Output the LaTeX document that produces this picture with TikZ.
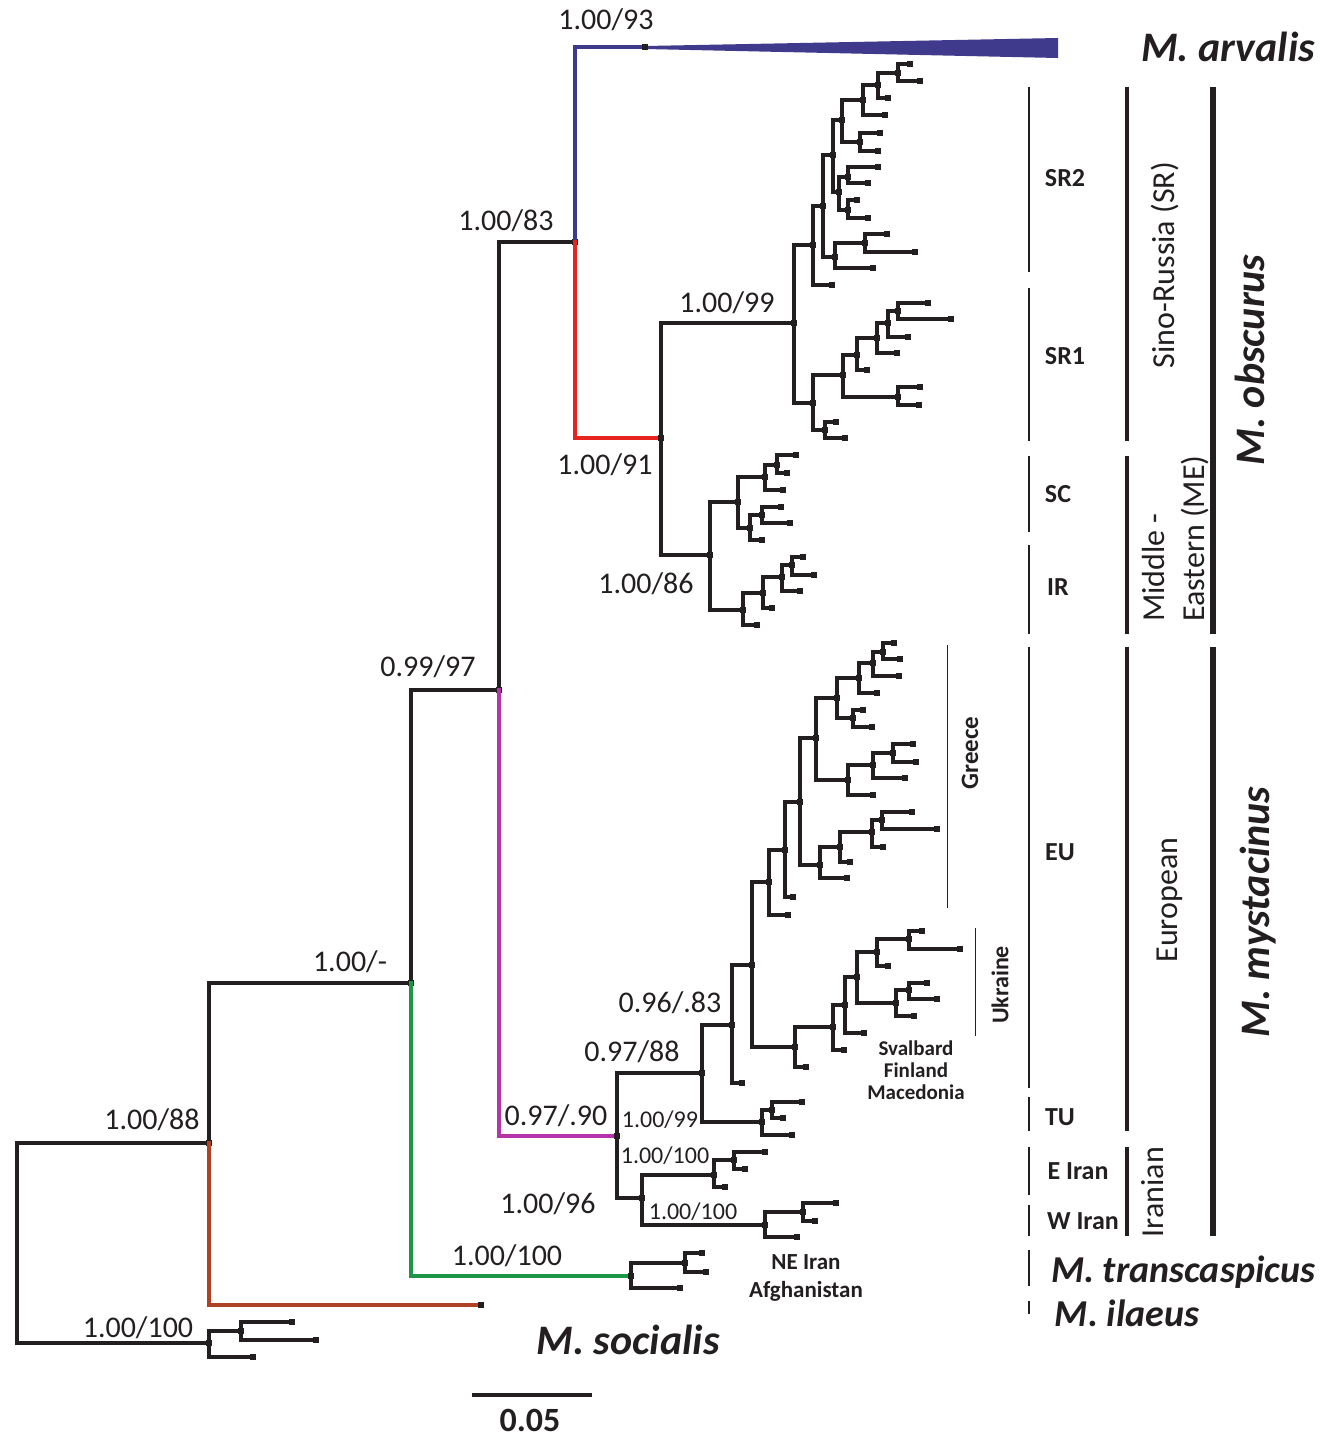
\documentclass[tikz,border=0pt]{standalone}
\usepackage{fontspec}
\setmainfont{Carlito}
\definecolor{tb}{RGB}{35,31,32}
\definecolor{cblue}{RGB}{64,58,140}
\definecolor{cred}{RGB}{232,36,32}
\definecolor{cmag}{RGB}{182,52,170}
\definecolor{cgreen}{RGB}{30,150,72}
\definecolor{cbrown}{RGB}{176,66,36}
\newcount\lc
\newcommand\nd[4][]{\coordinate (#2) at (#3); \draw[branch,#1] (#4) |- (#2); \fill[tb] (#2) +(-2.6,-2.6) rectangle +(2.6,2.6);}
\newcommand\lf[3][]{\global\advance\lc by 1 \edef\lname{L\the\lc}\coordinate (\lname) at (#2); \draw[branch,#1] (#3) |- (\lname); \fill[tb] (\lname) +(-3.4,-3.4) rectangle +(3.4,3.4);}
\begin{document}
\begin{tikzpicture}[x=1pt,y=-1pt,
  branch/.style={line width=3.6pt,draw=tb,line cap=rect,line join=miter},
  cbl/.style={draw=cblue,line width=3.3pt},
  crd/.style={draw=cred,line width=3.3pt},
  cmg/.style={draw=cmag,line width=3.3pt},
  cgr/.style={draw=cgreen,line width=3.3pt},
  cbr/.style={draw=cbrown,line width=3.3pt},
  lab/.style={text=tb,inner sep=0pt,font=\fontsize{30}{34}\selectfont},
  slab/.style={text=tb,inner sep=0pt,font=\fontsize{24}{28}\selectfont},
  grp/.style={text=tb,inner sep=0pt,font=\fontsize{26}{30}\selectfont\bfseries},
  reg/.style={text=tb,inner sep=0pt,font=\fontsize{32}{36}\selectfont},
  taxon/.style={text=tb,inner sep=0pt,font=\fontsize{42}{48}\selectfont\bfseries\itshape},
  place/.style={text=tb,inner sep=0pt,font=\fontsize{21}{22}\selectfont\bfseries},
  thin/.style={draw=tb,line width=2pt},
  mid/.style={draw=tb,line width=4pt},
  thick/.style={draw=tb,line width=5.5pt}]
\useasboundingbox (0,0) rectangle (1325,1444);
% ---------- tree ----------
\coordinate (root) at (17,1244);
\nd{n209}{209,1143}{root}
\nd{nsoc}{209,1343}{root}
\nd{nsa}{241,1331}{nsoc}
\lf{292,1322}{nsa}
\lf{316,1340}{nsa}
\lf{253,1357}{nsoc}
\nd{n411}{411,983}{n209}
\lf[cbr]{481,1305}{n209}
\nd{n499}{499,690}{n411}
\nd[cgr]{ntc}{631,1276}{n411}
\nd{ntca}{685,1263}{ntc}
\lf{702,1253}{ntca}
\lf{706,1272}{ntca}
\lf{680,1288}{ntc}
\nd{n575}{575,242}{n499}
\nd[cmg]{n617}{617,1136}{n499}
\nd[cbl]{narv}{645,47}{n575}
\fill[cblue] (645,46) -- (1058,38) -- (1058,58) -- (645,49) -- cycle;
\fill[tb] (narv) +(-2.6,-2.6) rectangle +(2.6,2.6);
\nd[crd]{n661}{661,438}{n575}
\nd{n794}{794,323}{n661}
\nd{n710}{710,555}{n661}
% SR2
\nd{a1}{813,245}{n794}
\nd{b1}{813,403}{n794}
\nd{a2}{823,206}{a1}
\lf{832,285}{a1}
\nd{a3}{833,155}{a2}
\nd{a4}{835,257}{a2}
\nd{a5}{865,243}{a4}
\lf{873,268}{a4}
\lf{887,234}{a5}
\lf{915,252}{a5}
\nd{a6}{842,120}{a3}
\nd{a7}{839,192}{a3}
\nd{a8}{848,177}{a7}
\nd{a9}{848,210}{a7}
\lf{878,167}{a8}
\lf{868,183}{a8}
\lf{857,200}{a9}
\lf{868,218}{a9}
\nd{a10}{863,100}{a6}
\nd{a11}{860,142}{a6}
\lf{880,133}{a11}
\lf{878,151}{a11}
\nd{a12}{878,85}{a10}
\lf{885,115}{a10}
\nd{a13}{898,73}{a12}
\lf{888,98}{a12}
\lf{910,64}{a13}
\lf{920,81}{a13}
% SR1
\nd{b2}{843,375}{b1}
\nd{b3}{825,430}{b1}
\lf{836,422}{b3}
\lf{845,438}{b3}
\nd{b4}{857,355}{b2}
\nd{b5}{898,397}{b2}
\lf{920,387}{b5}
\lf{919,405}{b5}
\nd{b6}{877,338}{b4}
\lf{867,370}{b4}
\nd{b7}{888,323}{b6}
\lf{897,353}{b6}
\nd{b8}{898,311}{b7}
\lf{908,337}{b7}
\lf{928,303}{b8}
\lf{951,319}{b8}
% SC / IR
\nd{c1}{738,502}{n710}
\nd{c2}{743,610}{n710}
\nd{c3}{765,477}{c1}
\nd{c4}{750,528}{c1}
\nd{c5}{777,465}{c3}
\lf{783,490}{c3}
\lf{796,455}{c5}
\lf{787,473}{c5}
\nd{c6}{762,515}{c4}
\lf{762,540}{c4}
\lf{781,507}{c6}
\lf{790,523}{c6}
\nd{c7}{763,593}{c2}
\lf{757,625}{c2}
\nd{c8}{782,577}{c7}
\lf{772,608}{c7}
\nd{c9}{792,565}{c8}
\lf{800,591}{c8}
\lf{803,557}{c9}
\lf{814,575}{c9}
% mystacinus
\nd{d1}{702,1073}{n617}
\nd{d2}{642,1198}{n617}
\nd{d3}{732,1025}{d1}
\nd{d4}{762,1122}{d1}
\nd{d5}{772,1110}{d4}
\lf{792,1135}{d4}
\lf{802,1102}{d5}
\lf{783,1118}{d5}
\nd{d6}{752,965}{d3}
\lf{742,1083}{d3}
\nd{e1}{769,882}{d6}
\nd{u1}{795,1047}{d6}
\nd{u2}{833,1027}{u1}
\lf{806,1067}{u1}
\nd{u3}{845,1005}{u2}
\lf{844,1050}{u2}
\nd{u4}{857,977}{u3}
\lf{864,1033}{u3}
\nd{u5}{877,952}{u4}
\nd{u6}{896,1003}{u4}
\nd{u7}{909,939}{u5}
\lf{888,966}{u5}
\lf{922,931}{u7}
\lf{960,949}{u7}
\nd{u8}{909,990}{u6}
\lf{914,1016}{u6}
\lf{927,983}{u8}
\lf{937,999}{u8}
\nd{e2}{785,850}{e1}
\lf{788,915}{e1}
\nd{e3}{800,802}{e2}
\lf{793,897}{e2}
\nd{e4}{816,738}{e3}
\nd{e5}{820,865}{e3}
\nd{e6}{840,847}{e5}
\lf{847,878}{e5}
\nd{e7}{872,832}{e6}
\lf{850,862}{e6}
\nd{e8}{882,820}{e7}
\lf{883,847}{e7}
\lf{912,812}{e8}
\lf{937,829}{e8}
\nd{e9}{837,698}{e4}
\nd{e10}{848,780}{e4}
\nd{e11}{873,765}{e10}
\lf{873,795}{e10}
\nd{e12}{893,753}{e11}
\lf{905,778}{e11}
\lf{913,744}{e12}
\lf{916,762}{e12}
\nd{e13}{859,678}{e9}
\nd{e14}{853,718}{e9}
\lf{863,710}{e14}
\lf{872,727}{e14}
\nd{e15}{873,663}{e13}
\lf{877,693}{e13}
\nd{e16}{883,652}{e15}
\lf{899,676}{e15}
\lf{894,643}{e16}
\lf{900,659}{e16}
\nd{f1}{714,1175}{d2}
\nd{f2}{765,1225}{d2}
\nd{f3}{734,1160}{f1}
\lf{725,1187}{f1}
\lf{765,1152}{f3}
\lf{745,1169}{f3}
\nd{f4}{803,1212}{f2}
\lf{797,1237}{f2}
\lf{836,1203}{f4}
\lf{815,1221}{f4}
% ---------- support labels ----------
\node[lab] (s1) at (606,20) {1.00/93};
\node[lab] (s2) at (506,221) {1.00/83};
\node[lab] (s3) at (605,465) {1.00/91};
\node[lab] (s4) at (727,303) {1.00/99};
\node[lab] (s5) at (646,584) {1.00/86};
\node[lab] (s6) at (428,667) {0.99/97};
\node[lab] (s7) at (350,962) {1.00/-};
\node[lab] (s8) at (152,1120) {1.00/88};
\node[lab] (s9) at (138,1328) {1.00/100};
\node[lab] (s10) at (507,1256) {1.00/100};
\node[lab] (s11) at (556,1116) {0.97/.90};
\node[lab] (s12) at (632,1052) {0.97/88};
\node[lab] (s13) at (670,1003) {0.96/.83};
\node[lab] (s14) at (548,1204) {1.00/96};
\node[slab] (s15) at (660,1120) {1.00/99};
\node[slab] (s16) at (665,1156) {1.00/100};
\node[slab] (s17) at (693,1212) {1.00/100};
% ---------- place labels ----------
\node[place,align=center] (svf) at (916,1070) {Svalbard\\Finland\\Macedonia};
\node[place,align=center,font=\fontsize{23}{28}\selectfont\bfseries] (nei) at (806,1278) {NE Iran\\Afghanistan};
\draw[tb,line width=1pt] (947,645) -- (947,908);
\node[grp,rotate=90,font=\fontsize{25}{30}\selectfont\bfseries] (gre) at (970,753) {Greece};
\draw[tb,line width=1pt] (975,928) -- (975,1036);
\node[grp,rotate=90,font=\fontsize{24}{30}\selectfont\bfseries] (ukr) at (1000,985) {Ukraine};
% ---------- right columns ----------
\draw[thin] (1029,87) -- (1029,272);
\draw[thin] (1029,288) -- (1029,441);
\draw[thin] (1029,456) -- (1029,532);
\draw[thin] (1029,545) -- (1029,634);
\draw[thin] (1029,647) -- (1029,1088);
\draw[thin] (1029,1097) -- (1029,1131);
\draw[thin] (1029,1147) -- (1029,1195);
\draw[thin] (1029,1205) -- (1029,1236);
\draw[thin] (1029,1250) -- (1029,1286);
\draw[thin] (1029,1301) -- (1029,1314);
\node[grp] (sr2) at (1065,178) {SR2};
\node[grp] (sr1) at (1065,356) {SR1};
\node[grp] (sc) at (1058,494) {SC};
\node[grp] (ir) at (1058,587) {IR};
\node[grp] (eu) at (1060,852) {EU};
\node[grp] (tu) at (1060,1117) {TU};
\node[grp] (eir) at (1078,1171) {E Iran};
\node[grp] (wir) at (1083,1221) {W Iran};
\draw[mid] (1127,87) -- (1127,441);
\draw[mid] (1127,456) -- (1127,634);
\draw[mid] (1127,647) -- (1127,1131);
\draw[mid] (1127,1147) -- (1127,1236);
\node[reg,rotate=90] (sinor) at (1165,265) {Sino-Russia (SR)};
\node[reg,rotate=90,anchor=west] (midd) at (1153,622) {Middle -};
\node[reg,rotate=90,anchor=west] (east) at (1195,622) {Eastern (ME)};
\node[reg,rotate=90] (euro) at (1170,900) {European};
\node[reg,rotate=90] (iran) at (1153,1192) {Iranian};
\draw[thick] (1213,87) -- (1213,634);
\draw[thick] (1213,647) -- (1213,1236);
\node[taxon,rotate=90] (obs) at (1250,360) {M. obscurus};
\node[taxon,rotate=90] (mys) at (1258,912) {M. mystacinus};
\node[taxon] (arv) at (1228,47) {M. arvalis};
\node[taxon,font=\fontsize{38}{44}\selectfont\bfseries\itshape] (tra) at (1183,1272) {M. transcaspicus};
\node[taxon,font=\fontsize{38}{44}\selectfont\bfseries\itshape] (ila) at (1127,1313) {M. ilaeus};
\node[taxon] (soc) at (628,1340) {M. socialis};
% ---------- scale bar ----------
\coordinate (sb1) at (472,1395);
\coordinate (sb2) at (592,1395);
\draw[tb,line width=4pt] (sb1) -- (sb2);
\node[text=tb,inner sep=0pt,font=\fontsize{34}{40}\selectfont\bfseries] (sbl) at (530,1420) {0.05};
\end{tikzpicture}
\end{document}
